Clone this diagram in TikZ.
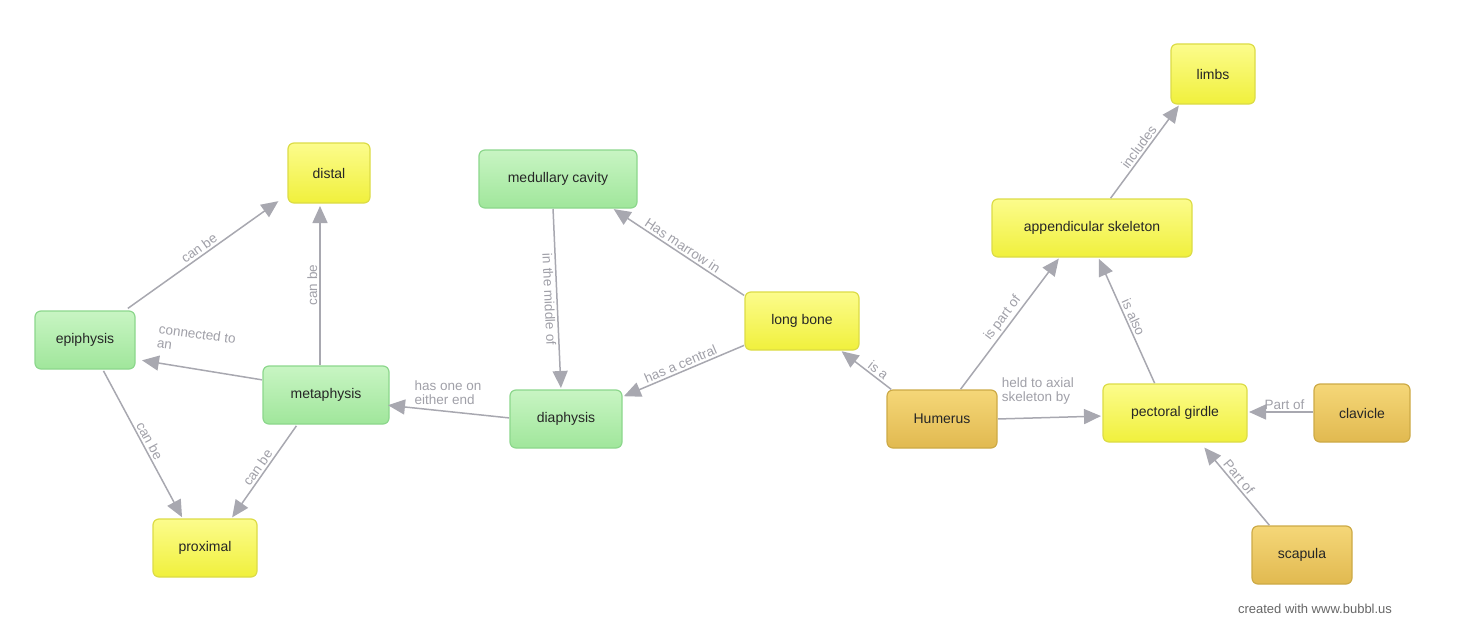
\documentclass[tikz,border=0pt]{standalone}
\usepackage{fontspec}
\setmainfont{Liberation Sans}
\usetikzlibrary{arrows.meta}
\definecolor{edgec}{HTML}{A8A8B0}
\definecolor{labc}{HTML}{A0A0A8}
\tikzset{
 box/.style={rounded corners=6pt, line width=1.2pt, font=\fontsize{14}{16}\selectfont, text=black!85, align=center, inner sep=0pt},
 ybox/.style={box, draw={rgb,255:red,220;green,220;blue,70}, top color={rgb,255:red,252;green,252;blue,140}, bottom color={rgb,255:red,240;green,240;blue,60}},
 gbox/.style={box, draw={rgb,255:red,140;green,215;blue,140}, top color={rgb,255:red,200;green,245;blue,195}, bottom color={rgb,255:red,160;green,230;blue,155}},
 obox/.style={box, draw={rgb,255:red,205;green,170;blue,70}, top color={rgb,255:red,245;green,215;blue,120}, bottom color={rgb,255:red,225;green,185;blue,80}},
 conn/.style={draw=edgec, line width=1.5pt, -{Triangle[length=17pt,width=15pt]}, shorten <=1pt, shorten >=2pt},
 lab/.style={text=labc, font=\fontsize{13.5}{14}\selectfont, align=left, inner sep=2pt, sloped}
}
\begin{document}
\begin{tikzpicture}[x=1pt,y=-1pt]
\useasboundingbox (0,0) rectangle (1458,626);
\node[ybox, minimum width=82pt, minimum height=60pt] (distal) at (329,173) {distal};
\node[gbox, minimum width=158pt, minimum height=58pt] (med) at (558,179) {medullary cavity};
\node[ybox, minimum width=84pt, minimum height=60pt] (limbs) at (1213,74) {limbs};
\node[ybox, minimum width=200pt, minimum height=58pt] (app) at (1092,228) {appendicular skeleton};
\node[gbox, minimum width=100pt, minimum height=58pt] (epi) at (85,340) {epiphysis};
\node[ybox, minimum width=114pt, minimum height=58pt] (long) at (802,321) {long bone};
\node[gbox, minimum width=126pt, minimum height=58pt] (meta) at (326,395) {metaphysis};
\node[gbox, minimum width=112pt, minimum height=58pt] (dia) at (566,419) {diaphysis};
\node[obox, minimum width=110pt, minimum height=58pt] (hum) at (942,419) {Humerus};
\node[ybox, minimum width=144pt, minimum height=58pt] (pec) at (1175,413) {pectoral girdle};
\node[obox, minimum width=96pt, minimum height=58pt] (clav) at (1362,413) {clavicle};
\node[ybox, minimum width=104pt, minimum height=58pt] (prox) at (205,548) {proximal};
\node[obox, minimum width=100pt, minimum height=58pt] (scap) at (1302,555) {scapula};
\node[text=black!60, font=\fontsize{13}{14}\selectfont] (credit) at (1315,609) {created with www.bubbl.us};

\draw[conn] (127,309) -- node[lab, above] {can be} (280,200);
\draw[conn] (320,366) -- node[lab, above] {can be} (320,204);
\draw[conn] (263,380) -- (140,360);
\node[lab, sloped=false, rotate=-8, anchor=west] (lbconn) at (156,335) {connected to\\an};
\draw[conn] (103,370) -- node[lab, above] {can be} (183,519);
\draw[conn] (297,425) -- node[lab, above] {can be} (231,519);
\draw[conn] (510,418) -- node[lab, above, sloped=false, yshift=4pt] {has one on\\either end} (386,405);
\draw[conn] (553,208) -- node[lab, below] {in the middle of} (561,390);
\draw[conn] (745,296) -- node[lab, above] {Has marrow in} (612,208);
\draw[conn] (745,345) -- node[lab, above] {has a central} (622,397);
\draw[conn] (892,390) -- node[lab, above, pos=0.35] {is a} (840,350);
\draw[conn] (960,390) -- node[lab, above] {is part of} (1060,257);
\draw[conn] (997,419) -- node[lab, above, sloped=false, anchor=south west, pos=0.0, xshift=2pt, yshift=12pt] {held to axial\\skeleton by} (1103,416);
\draw[conn] (1155,384) -- node[lab, above] {is also} (1098,257);
\draw[conn] (1110,199) -- node[lab, above] {includes} (1180,104);
\draw[conn] (1314,412) -- node[lab, above, sloped=false, xshift=4pt] {Part of} (1247,412);
\draw[conn] (1270,526) -- node[lab, above, pos=0.55] {Part of} (1203,446);
\end{tikzpicture}
\end{document}
